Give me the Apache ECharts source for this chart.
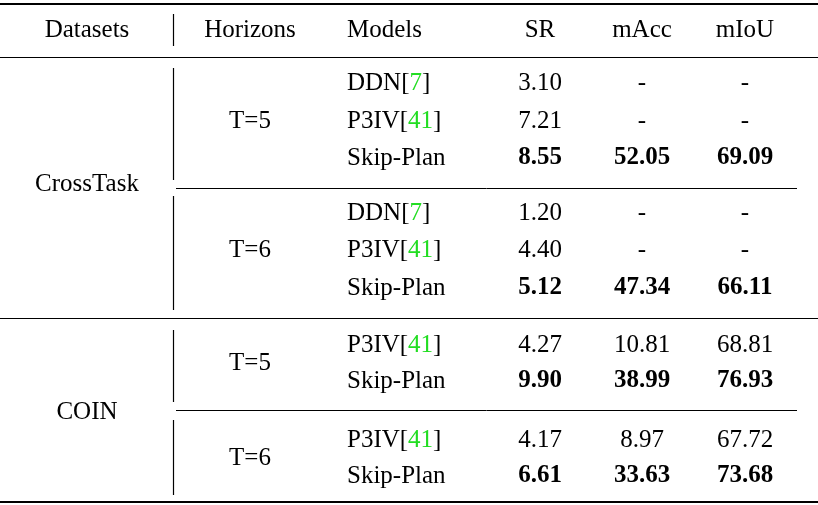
<!DOCTYPE html><html><head><meta charset="utf-8">
<script src="https://cdn.jsdelivr.net/npm/echarts@6/dist/echarts.min.js"></script>
<style>html,body{margin:0;background:#fff}#c{width:818px;height:505px}</style></head><body><div id="c"></div>
<script>
const headers=["Datasets","Horizons","Models","SR","mAcc","mIoU"];
const models=[["DDN","7"],["P3IV","41"],["Skip-Plan",""],["DDN","7"],["P3IV","41"],["Skip-Plan",""],["P3IV","41"],["Skip-Plan",""],["P3IV","41"],["Skip-Plan",""]];
const sr=["3.10","7.21","8.55","1.20","4.40","5.12","4.27","9.90","4.17","6.61"];
const macc=["-","-","52.05","-","-","47.34","10.81","38.99","8.97","33.63"];
const miou=["-","-","69.09","-","-","66.11","68.81","76.93","67.72","73.68"];
const bold=[0,0,1,0,0,1,0,1,0,1];
const rowY=[83,121,158,213,250,288,345,381,440,476];
const els=[];
const F='Liberation Serif';
const FS=25;
function t(x,y,s,o={}){els.push({type:'text',x,y,style:{text:s,fontFamily:F,fontSize:FS,fontWeight:o.b?'bold':'normal',fill:o.c||'#000',align:o.a||'center',verticalAlign:'middle'}});}
function hl(x1,x2,y,w){els.push({type:'line',shape:{x1,y1:y,x2,y2:y},style:{stroke:'#000',lineWidth:w}});}
function vl(y1,y2){els.push({type:'line',shape:{x1:173.5,y1,x2:173.5,y2},style:{stroke:'#000',lineWidth:1.2}});}
const cx=[87,250,347,540,642,745];
headers.forEach((h,i)=>t(cx[i],30,h,{a:i==2?'left':'center'}));
hl(0,818,4,2);hl(0,818,57.5,1.2);hl(0,818,318.5,1.2);hl(0,818,502,2);
hl(176,797,188.5,1);hl(176,797,410.5,1);
vl(14,46);vl(68,180);vl(196,310);vl(330,402);vl(420,495);
t(87,184,"CrossTask");t(87,412,"COIN");
t(250,121,"T=5");t(250,250,"T=6");t(250,363,"T=5");t(250,458,"T=6");
const ctx=document.createElement('canvas').getContext('2d');
ctx.font=`${FS}px "${F}"`;
models.forEach((m,i)=>{const y=rowY[i];
 if(m[1]){let x=347;const seg=[[m[0]+'[','#000'],[m[1],'#22dd22'],[']','#000']];
  seg.forEach(s=>{t(x,y,s[0],{a:'left',c:s[1]});x+=ctx.measureText(s[0]).width;});}
 else t(347,y,m[0],{a:'left'});
 t(540,y,sr[i],{b:bold[i]});t(642,y,macc[i],{b:bold[i]});t(745,y,miou[i],{b:bold[i]});
});
const ch=echarts.init(document.getElementById('c'));
ch.setOption({animation:false,graphic:{elements:els}});
</script></body></html>
